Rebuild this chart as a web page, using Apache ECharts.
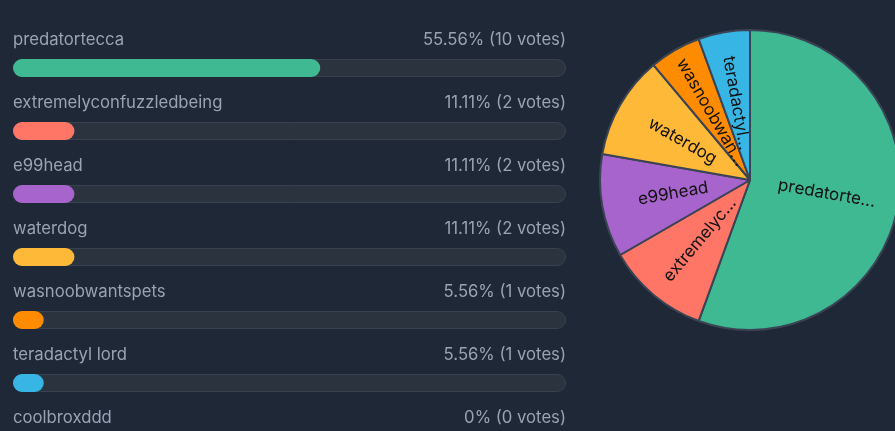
<!DOCTYPE html>
<html>
<head>
<meta charset="utf-8">
<script src="https://cdn.jsdelivr.net/npm/echarts@6/dist/echarts.min.js"></script>
<style>
  html, body { margin: 0; padding: 0; background: #1f2837; overflow: hidden; }
  #myCharts { width: 895px; height: 500px; }
</style>
</head>
<body>
<div id="myCharts"></div>
<script>
// poll data
const names = ["predatortecca", "extremelyconfuzzledbeing", "e99head", "waterdog", "wasnoobwantspets", "teradactyl lord", "coolbroxddd"];
const votes = [10, 2, 2, 2, 1, 1, 0];
const percents = [55.56, 11.11, 11.11, 11.11, 5.56, 5.56, 0];
const colors = ["#3fb991", "#ff7566", "#a864cd", "#ffb938", "#ff8c00", "#37b6e6", "#8b93a1"];

// canvas is taller than the window so the last row can run off the bottom
const myCharts = echarts.init(document.getElementById("myCharts"));

const trackData = names.map(function (n, i) {
  return {
    value: 100,
    label: {
      formatter: "{n|" + n + "}{p|" + (percents[i] === 0 ? "0" : percents[i]) + "% (" + votes[i] + " votes)}"
    }
  };
});

const fillData = percents.map(function (v, i) {
  return { value: v, itemStyle: { color: colors[i] } };
});

const pieData = [];
for (let i = 0; i < names.length; i++) {
  if (votes[i] > 0) {
    pieData.push({ name: names[i], value: votes[i], itemStyle: { color: colors[i] } });
  }
}

let option = {
  backgroundColor: "#1f2837",
  textStyle: { fontFamily: "Inter" },
  animation: false,
  grid: {
    left: 13,
    top: 36.5,
    width: 553,
    height: 441,
  },
  xAxis: { type: "value", min: 0, max: 100, show: false },
  yAxis: {
    type: "category",
    data: names,
    inverse: true,
    show: false,
  },
  series: [
    {
      type: "bar",
      barWidth: 18,
      silent: true,
      itemStyle: {
        color: "#2b333f",
        borderColor: "#38414f",
        borderWidth: 1,
        borderRadius: 9,
      },
      label: {
        show: true,
        position: [0, -28],
        rich: {
          n: { width: 350, align: "left", fontSize: 16.7, lineHeight: 18, color: "#9aa3b2", fontFamily: "Inter" },
          p: { width: 203, align: "right", fontSize: 16.7, lineHeight: 18, color: "#9aa3b2", fontFamily: "Inter" },
        },
      },
      data: trackData,
    },
    {
      type: "bar",
      barWidth: 18,
      barGap: "-100%",
      silent: true,
      itemStyle: { borderRadius: 9 },
      data: fillData,
    },
    {
      type: "pie",
      center: [750, 180],
      radius: 150,
      startAngle: 90,
      clockwise: true,
      silent: true,
      avoidLabelOverlap: false,
      labelLayout: { hideOverlap: false },
      itemStyle: {
        borderColor: "#3a4454",
        borderWidth: 2,
      },
      label: {
        show: true,
        position: "inside",
        rotate: "radial",
        color: "#111",
        fontSize: 17,
        fontFamily: "Inter",
        formatter: function (p) {
          // long names are cut to 10 chars
          return p.name.length > 10 ? p.name.slice(0, 10) + "..." : p.name;
        },
      },
      labelLine: { show: false },
      data: pieData,
    },
  ],
};

myCharts.setOption(option);
</script>
</body>
</html>
